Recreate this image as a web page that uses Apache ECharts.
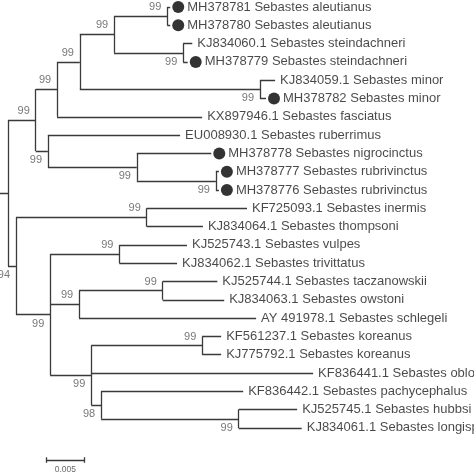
<!DOCTYPE html>
<html><head><meta charset="utf-8">
<script src="https://cdn.jsdelivr.net/npm/echarts@6/dist/echarts.min.js"></script>
<style>html,body{margin:0;padding:0;background:#fff}#c{width:474px;height:474px}</style>
</head><body><div id="c"></div>
<script>
// leaves in display order
const leafNames = ["MH378781 Sebastes aleutianus","MH378780 Sebastes aleutianus","KJ834060.1 Sebastes steindachneri","MH378779 Sebastes steindachneri","KJ834059.1 Sebastes minor","MH378782 Sebastes minor","KX897946.1 Sebastes fasciatus","EU008930.1 Sebastes ruberrimus","MH378778 Sebastes nigrocinctus","MH378777 Sebastes rubrivinctus","MH378776 Sebastes rubrivinctus","KF725093.1 Sebastes inermis","KJ834064.1 Sebastes thompsoni","KJ525743.1 Sebastes vulpes","KJ834062.1 Sebastes trivittatus","KJ525744.1 Sebastes taczanowskii","KJ834063.1 Sebastes owstoni","AY 491978.1 Sebastes schlegeli","KF561237.1 Sebastes koreanus","KJ775792.1 Sebastes koreanus","KF836441.1 Sebastes oblong","KF836442.1 Sebastes pachycephalus","KJ525745.1 Sebastes hubbsi","KJ834061.1 Sebastes longispini"];
const leafDepth = [0.0224,0.0224,0.0253,0.0247,0.0362,0.0350,0.0266,0.0237,0.0278,0.0288,0.0288,0.0325,0.0267,0.0246,0.0233,0.0286,0.0295,0.0337,0.0291,0.0291,0.0412,0.0320,0.0391,0.0397];
const leafMarked = [1,1,0,1,0,1,0,0,1,1,1,0,0,0,0,0,0,0,0,0,0,0,0,0];
// internal nodes: id, depth, children (leaf index as number, node id as string), bootstrap, label side
const nodeIds   = ["root","A","E","G","H","I","J","Mi","F","K","L","C","T","D","N","M","P","O","Q","R","S"];
const nodeDepth = [0.00105,0.0047,0.0075,0.0105,0.0150,0.0220,0.0241,0.0342,0.0063,0.0180,0.0284,0.0021,0.0193,0.0066,0.0157,0.0104,0.0214,0.0120,0.0266,0.0133,0.0314];
const nodeKids  = [["A","C"],["E","F"],["G",6],["H","Mi"],["I","J"],[0,1],[2,3],[4,5],[7,"K"],[8,"L"],[9,10],["T","D"],[11,12],["N","M","O"],[13,14],["P",17],[15,16],["Q",20,"R"],[18,19],[21,"S"],[22,23]];
const bootstrap = ["","99","99","99","99","99","99","99","99","99","99","94","99","99","99","99","99","99","99","98","99"];
const bootSide  = ["","up","up","up","up","up","down","down","down","down","down","down","up","down","up","up","up","down","up","down","down"];
const scaleBar = {from:0.0061, length:0.005, label:"0.005"};

const segs = [];
const nodeY = {};
const idx = {};
nodeIds.forEach((id,i)=>idx[id]=i);
function ky(k){ return typeof k==='number' ? k : layout(k); }
function kx(k){ return typeof k==='number' ? leafDepth[k] : nodeDepth[idx[k]]; }
function layout(id){
  if(nodeY[id]!==undefined) return nodeY[id];
  const i=idx[id], kids=nodeKids[i], x=nodeDepth[i];
  const ys=kids.map(ky);
  kids.forEach((k,j)=>segs.push({coords:[[x,ys[j]],[kx(k),ys[j]]]}));
  segs.push({coords:[[x,ys[0]],[x,ys[ys.length-1]]]});
  nodeY[id]=(ys[0]+ys[ys.length-1])/2;
  return nodeY[id];
}
const rootY=layout("root");
segs.push({coords:[[0,rootY],[nodeDepth[0],rootY]]});
// scale bar
const sbY=24.75;
segs.push({coords:[[scaleBar.from,sbY],[scaleBar.from+scaleBar.length,sbY]]});
segs.push({coords:[[scaleBar.from,sbY-0.15],[scaleBar.from,sbY+0.15]]});
segs.push({coords:[[scaleBar.from+scaleBar.length,sbY-0.15],[scaleBar.from+scaleBar.length,sbY+0.15]]});

const leafPts = leafNames.map((n,i)=>({value:[leafDepth[i],i],name:n,marked:leafMarked[i]}));
const bootPts = nodeIds.map((id,i)=>({value:[nodeDepth[i],nodeY[id]],name:bootstrap[i],side:bootSide[i]})).filter(d=>d.name);

const chart=echarts.init(document.getElementById('c'));
chart.setOption({
  animation:false,
  grid:{left:0,right:0,top:7,bottom:9.5},
  xAxis:{type:'value',min:0,max:474/7600,show:false},
  yAxis:{type:'value',min:0,max:25,inverse:true,show:false},
  series:[
    {type:'lines',coordinateSystem:'cartesian2d',data:segs,lineStyle:{color:'#3a3a3a',width:1.3,opacity:1},silent:true},
    {type:'scatter',data:leafPts.filter(d=>d.marked).map(d=>({value:d.value})),symbol:'circle',symbolSize:12,symbolOffset:[8,0],itemStyle:{color:'#000'},silent:true},
    {type:'scatter',data:leafPts.map(d=>({value:d.value,name:d.name,label:{offset:[d.marked?12:0,0]}})),symbolSize:0,
     label:{show:true,position:'right',formatter:'{b}',fontFamily:'Liberation Sans, Arial',fontSize:13,color:'#1a1a1a'},silent:true},
    {type:'scatter',data:bootPts.map(d=>({value:d.value,name:d.name,label:{offset:[-12,d.side==='up'?-9:9]}})),symbolSize:0,
     label:{show:true,position:'inside',formatter:'{b}',fontFamily:'Liberation Sans, Arial',fontSize:11,color:'#555'},silent:true},
    {type:'scatter',data:[{value:[scaleBar.from+scaleBar.length/2,sbY],name:scaleBar.label}],symbolSize:0,
     label:{show:true,position:'inside',offset:[0,10],formatter:'{b}',fontFamily:'Liberation Sans, Arial',fontSize:8.5,color:'#444'},silent:true}
  ]
});
</script></body></html>
